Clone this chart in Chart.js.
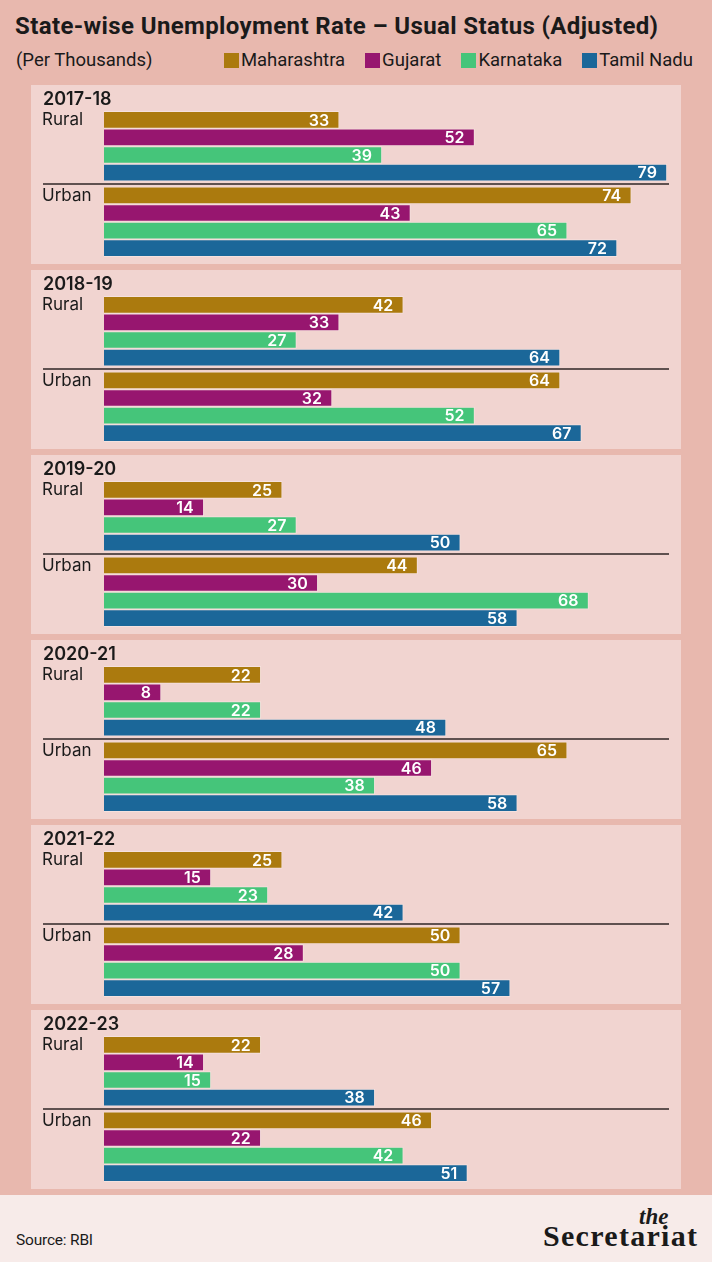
<!DOCTYPE html>
<html>
<head>
<meta charset="utf-8">
<script src="https://cdn.jsdelivr.net/npm/chart.js@4.4.1/dist/chart.umd.min.js"></script>
<style>
  body { margin: 0; width: 712px; height: 1262px; background: #e8b8ae; position: relative; overflow: hidden; font-family: Roboto, sans-serif; color: #1a1a1a; }
  .title { position: absolute; left: 15px; top: 12px; font: 700 24px/28px Roboto, sans-serif; letter-spacing: 0.38px; white-space: nowrap; }
  .sub { position: absolute; left: 16px; top: 49px; font: 400 18.5px/22px Roboto, sans-serif; }
  .legend { position: absolute; right: 19px; top: 49px; display: flex; white-space: nowrap; font: 400 18.5px/22px Roboto, sans-serif; }
  .legend span { display: flex; align-items: center; margin-left: 20px; }
  .legend i { display: inline-block; width: 15px; height: 15px; margin-right: 2px; }
  .panel { position: absolute; left: 31px; width: 650px; height: 179px; background: #f1d4d0; }
  .footer { position: absolute; left: 0; top: 1195px; width: 712px; height: 67px; background: #f7ebe9; }
  .source { position: absolute; left: 16px; top: 1231px; font: 400 15.5px/18px Roboto, sans-serif; letter-spacing: -0.2px; }
  .the { position: absolute; left: 639px; top: 1204px; font: italic 600 23px/26px "Liberation Serif", serif; }
  .brand { position: absolute; left: 543px; top: 1220px; font: 700 30px/32px "Liberation Serif", serif; letter-spacing: 1.3px; }
</style>
</head>
<body>
<div class="title">State-wise Unemployment Rate – Usual Status (Adjusted)</div>
<div class="sub">(Per Thousands)</div>
<div class="legend" id="legend"></div>
<div id="panels"></div>
<div class="footer"></div>
<div class="source">Source: RBI</div>
<div class="the">the</div>
<div class="brand">Secretariat</div>
<script>
var years = ['2017-18', '2018-19', '2019-20', '2020-21', '2021-22', '2022-23'];
var states = ['Maharashtra', 'Gujarat', 'Karnataka', 'Tamil Nadu'];
var stateColors = ['#ab7a0e', '#97166f', '#45c57a', '#1b6799'];

// values per state, one per year
var maharashtraRural = [33, 42, 25, 22, 25, 22];
var gujaratRural     = [52, 33, 14, 8, 15, 14];
var karnatakaRural   = [39, 27, 27, 22, 23, 15];
var tamilNaduRural   = [79, 64, 50, 48, 42, 38];
var maharashtraUrban = [74, 64, 44, 65, 50, 46];
var gujaratUrban     = [43, 32, 30, 46, 28, 22];
var karnatakaUrban   = [65, 52, 68, 38, 50, 42];
var tamilNaduUrban   = [72, 67, 58, 58, 57, 51];

var rural = [maharashtraRural, gujaratRural, karnatakaRural, tamilNaduRural];
var urban = [maharashtraUrban, gujaratUrban, karnatakaUrban, tamilNaduUrban];
var urbanOffset = 4.3; // rows are 0..3 for rural, then a small gap

var legend = document.getElementById('legend');
states.forEach(function(s, j) {
  var sp = document.createElement('span');
  sp.innerHTML = '<i style="background:' + stateColors[j] + '"></i>' + s;
  legend.appendChild(sp);
});

function labelsPlugin(year) {
  return {
    id: 'panelLabels',
    afterDatasetsDraw: function(chart) {
      var ctx = chart.ctx;
      var y = chart.scales.y;
      ctx.save();
      ctx.fillStyle = '#1a1a1a';
      ctx.textBaseline = 'middle';
      ctx.textAlign = 'left';
      ctx.font = '600 18px Inter';
      ctx.fillText(year, 12, 15);
      ctx.font = '400 17px Inter';
      ctx.fillText('Rural', 11, y.getPixelForValue(0));
      ctx.fillText('Urban', 11, y.getPixelForValue(urbanOffset));
      var dy = Math.round(y.getPixelForValue((3 + urbanOffset) / 2));
      ctx.beginPath();
      ctx.moveTo(12, dy);
      ctx.lineTo(638, dy);
      ctx.strokeStyle = '#2e2626';
      ctx.lineWidth = 1.6;
      ctx.stroke();
      ctx.fillStyle = '#ffffff';
      ctx.textAlign = 'right';
      ctx.font = '600 16px Inter';
      chart.data.datasets.forEach(function(ds, j) {
        chart.getDatasetMeta(j).data.forEach(function(bar, k) {
          ctx.fillText(ds.data[k].x, bar.x - 10, bar.y + 1);
        });
      });
      ctx.restore();
    }
  };
}

var panels = document.getElementById('panels');
years.forEach(function(year, i) {
  var div = document.createElement('div');
  div.className = 'panel';
  div.style.top = (85 + 185 * i) + 'px';
  var canvas = document.createElement('canvas');
  canvas.width = 650;
  canvas.height = 179;
  div.appendChild(canvas);
  panels.appendChild(div);

  new Chart(canvas.getContext('2d'), {
    type: 'bar',
    data: {
      datasets: states.map(function(s, j) {
        return {
          label: s,
          data: [
            { x: rural[j][i], y: j },
            { x: urban[j][i], y: j + urbanOffset }
          ],
          backgroundColor: stateColors[j],
          borderColor: 'rgba(255,255,255,0.3)',
          borderWidth: 1,
          grouped: false,
          barThickness: 17
        };
      })
    },
    options: {
      indexAxis: 'y',
      responsive: false,
      animation: false,
      layout: { padding: { left: 73, right: 7, top: 26, bottom: 7 } },
      scales: {
        x: { type: 'linear', min: 0, max: 80, display: false },
        y: { type: 'linear', min: -0.5, max: 3 + urbanOffset + 0.5, reverse: true, offset: false, display: false }
      },
      plugins: {
        legend: { display: false },
        tooltip: { enabled: false }
      }
    },
    plugins: [labelsPlugin(year)]
  });
});
</script>
</body>
</html>
